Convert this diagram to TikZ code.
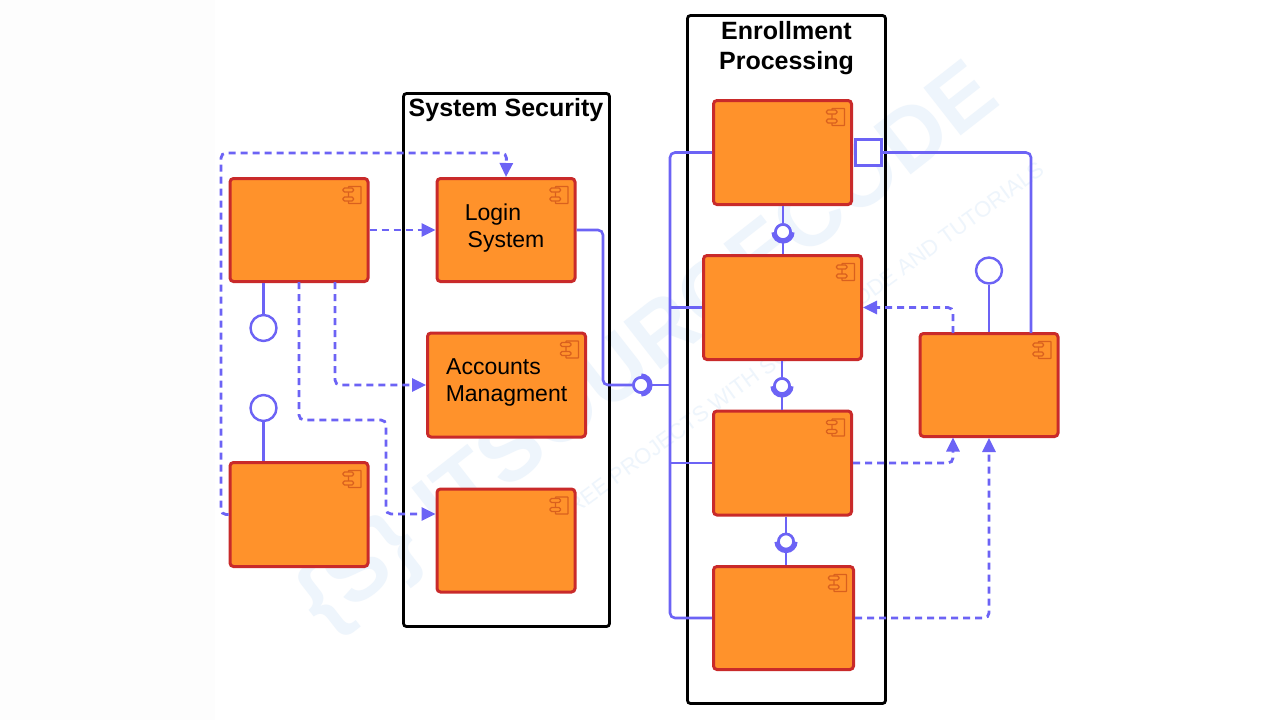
\documentclass[tikz,border=0pt]{standalone}
\usepackage{fontspec}
\setmainfont{Liberation Sans}
\usetikzlibrary{arrows.meta}
\definecolor{lnk}{HTML}{6C63F5}
\definecolor{fillc}{HTML}{FF922B}
\definecolor{edgec}{HTML}{C92A2A}
\definecolor{iconc}{HTML}{D9601E}
\definecolor{wm}{HTML}{EEF5FC}
\tikzset{
  comp/.style={draw=edgec,fill=fillc,line width=3pt,rounded corners=3.5pt,inner sep=0pt,align=center,font=\fontsize{23}{27}\selectfont},
  frame/.style={draw=black,line width=2.8pt,rounded corners=3pt,fill=none},
  ttl/.style={font=\bfseries\fontsize{25}{30}\selectfont,align=center,inner sep=0pt},
  solidl/.style={draw=lnk,line width=2.6pt,rounded corners=5pt},
  dashl/.style={draw=lnk,line width=2.8pt,rounded corners=5pt,dash pattern=on 7pt off 5pt},
  arr/.style={-{Triangle[length=14pt,width=13pt,fill=lnk]}},
  lolli/.style={circle,draw=lnk,fill=white,line width=2.4pt,inner sep=0pt,minimum size=26pt},
  sock/.style={circle,draw=lnk,fill=white,line width=2.6pt,inner sep=0pt,minimum size=15pt},
  portb/.style={draw=lnk,fill=white,line width=2.8pt,inner sep=0pt,minimum size=26pt},
  wmark/.style={text=wm,inner sep=0pt,font=\bfseries},
}
\newcommand{\compicon}[1]{%
  \begin{scope}[shift={(#1.north east)},draw=iconc,line width=1.1pt]
    \draw[rounded corners=.5pt] (-21,9.5) rectangle (-8.5,26.5);
    \draw[fill=fillc,rounded corners=1.5pt] (-26.5,11) rectangle (-16,15);
    \draw[fill=fillc,rounded corners=1.5pt] (-26.5,20) rectangle (-16,24);
  \end{scope}}
\newcommand{\sockarc}[2]{%
  \draw[lnk,line width=3.2pt] (#1)+(#2-88:10pt) arc[start angle=#2-88,end angle=#2+88,radius=10pt];}
\newcommand{\upfix}{\rule[-9pt]{0pt}{1pt}}
\begin{document}
\begin{tikzpicture}[x=1pt,y=-1pt]
\useasboundingbox (0,0) rectangle (1280,720);
\fill[white] (0,0) rectangle (1280,720);
\fill[black!0.6] (0,0) rectangle (215,720);
% watermark
\node[wmark,rotate=38,font=\bfseries\fontsize{88}{88}\selectfont] (wm1) at (650,350) {\{S\} ITSOURCECODE};
\node[wmark,rotate=36,font=\fontsize{22}{22}\selectfont] (wm2) at (800,342) {FREE PROJECTS WITH SOURCE CODE AND TUTORIALS};
% frames
\node[frame,minimum width=206pt,minimum height=533pt] (secf) at (506.5,360) {};
\node[frame,minimum width=198pt,minimum height=688pt] (enrf) at (786.5,359.5) {};
\node[ttl,anchor=center] (sect) at (506,110) {System Security};
\node[ttl,anchor=center] (enrt) at (786.5,48.5) {Enrollment\\Processing};
% components
\node[comp,minimum width=138pt,minimum height=103pt] (a) at (299,230) {};
\node[comp,minimum width=138pt,minimum height=104pt] (b) at (299,514.5) {};
\node[comp,minimum width=138pt,minimum height=103pt] (login) at (506,230) {Login\hspace*{26pt}\\System\upfix};
\node[comp,minimum width=158pt,minimum height=104pt] (acct) at (506.5,385) {Accounts\hspace*{26pt}\\Managment\upfix};
\node[comp,minimum width=138pt,minimum height=103pt] (c) at (506,540.5) {};
\node[comp,minimum width=138pt,minimum height=104pt] (e1) at (782.5,152.5) {};
\node[comp,minimum width=158pt,minimum height=104pt] (e2) at (782.5,307.5) {};
\node[comp,minimum width=138pt,minimum height=104pt] (e3) at (782.5,463) {};
\node[comp,minimum width=140pt,minimum height=103pt] (e4) at (783.5,618) {};
\node[comp,minimum width=138pt,minimum height=103pt] (r) at (989,385) {};
\foreach \n in {a,b,login,acct,c,e1,e2,e3,e4,r}{\compicon{\n}}
% coordinates
\coordinate (bus) at (670,385);
\node[sock] (s0) at (641,385) {};
\node[sock] (s1) at (783,232) {};
\node[sock] (s2) at (782,386) {};
\node[sock] (s3) at (786,541.5) {};
\node[portb,anchor=west] (port) at (854,152.5) {};
\node[lolli] (l1) at (263.5,328) {};
\node[lolli] (l2) at (263.5,408) {};
\node[lolli] (l3) at (989,270.5) {};
% solid links
\draw[solidl] (login.east) -- (603,230) -- (603,385) -- (s0.west);
\draw[solidl] (s0.east) -- (bus);
\draw[solidl,rounded corners=5pt] (e1.west) -- (670,152.5) -- (670,618) -- (e4.west);
\draw[solidl] (670,307.5) -- (e2.west);
\draw[solidl] (670,463) -- (e3.west);
\draw[solidl] (e1.south -| s1) -- (s1);
\draw[solidl] (s1) -- (e2.north -| s1);
\draw[solidl] (e2.south -| s2) -- (s2);
\draw[solidl] (s2) -- (e3.north -| s2);
\draw[solidl] (e3.south -| s3) -- (s3);
\draw[solidl] (s3) -- (e4.north -| s3);
\sockarc{s0}{0}
\sockarc{s1}{-90}
\sockarc{s2}{-90}
\sockarc{s3}{-90}
\node[sock] at (s0) {};\node[sock] at (s1) {};\node[sock] at (s2) {};\node[sock] at (s3) {};
\draw[solidl] (port.east) -- (1031,152.5) -- (1031,333);
\draw[solidl] (l1.north |- a.south) -- (l1.north);
\draw[solidl] (l2.south) -- (l2.south |- b.north);
\draw[solidl] (l3.south) -- (r.north -| l3);
% dashed links
\draw[dashl,arr] (a.east) -- (login.west);
\draw[dashl,arr] (b.west) -- (221,514.5) -- (221,153) -- (506.5,153) -- (login.north);
\draw[dashl,arr] (335,282) -- (335,385) -- (acct.west);
\draw[dashl,arr] (299,282) -- (299,420) -- (386,420) -- (386,514) -- (c.west |- 0,514);
\draw[dashl,arr] (953,333) -- (953,307.5) -- (e2.east);
\draw[dashl,arr] (e3.east) -- (953,463) -- (953,437.5);
\draw[dashl,arr] (e4.east) -- (989,618) -- (r.south);
\end{tikzpicture}
\end{document}
